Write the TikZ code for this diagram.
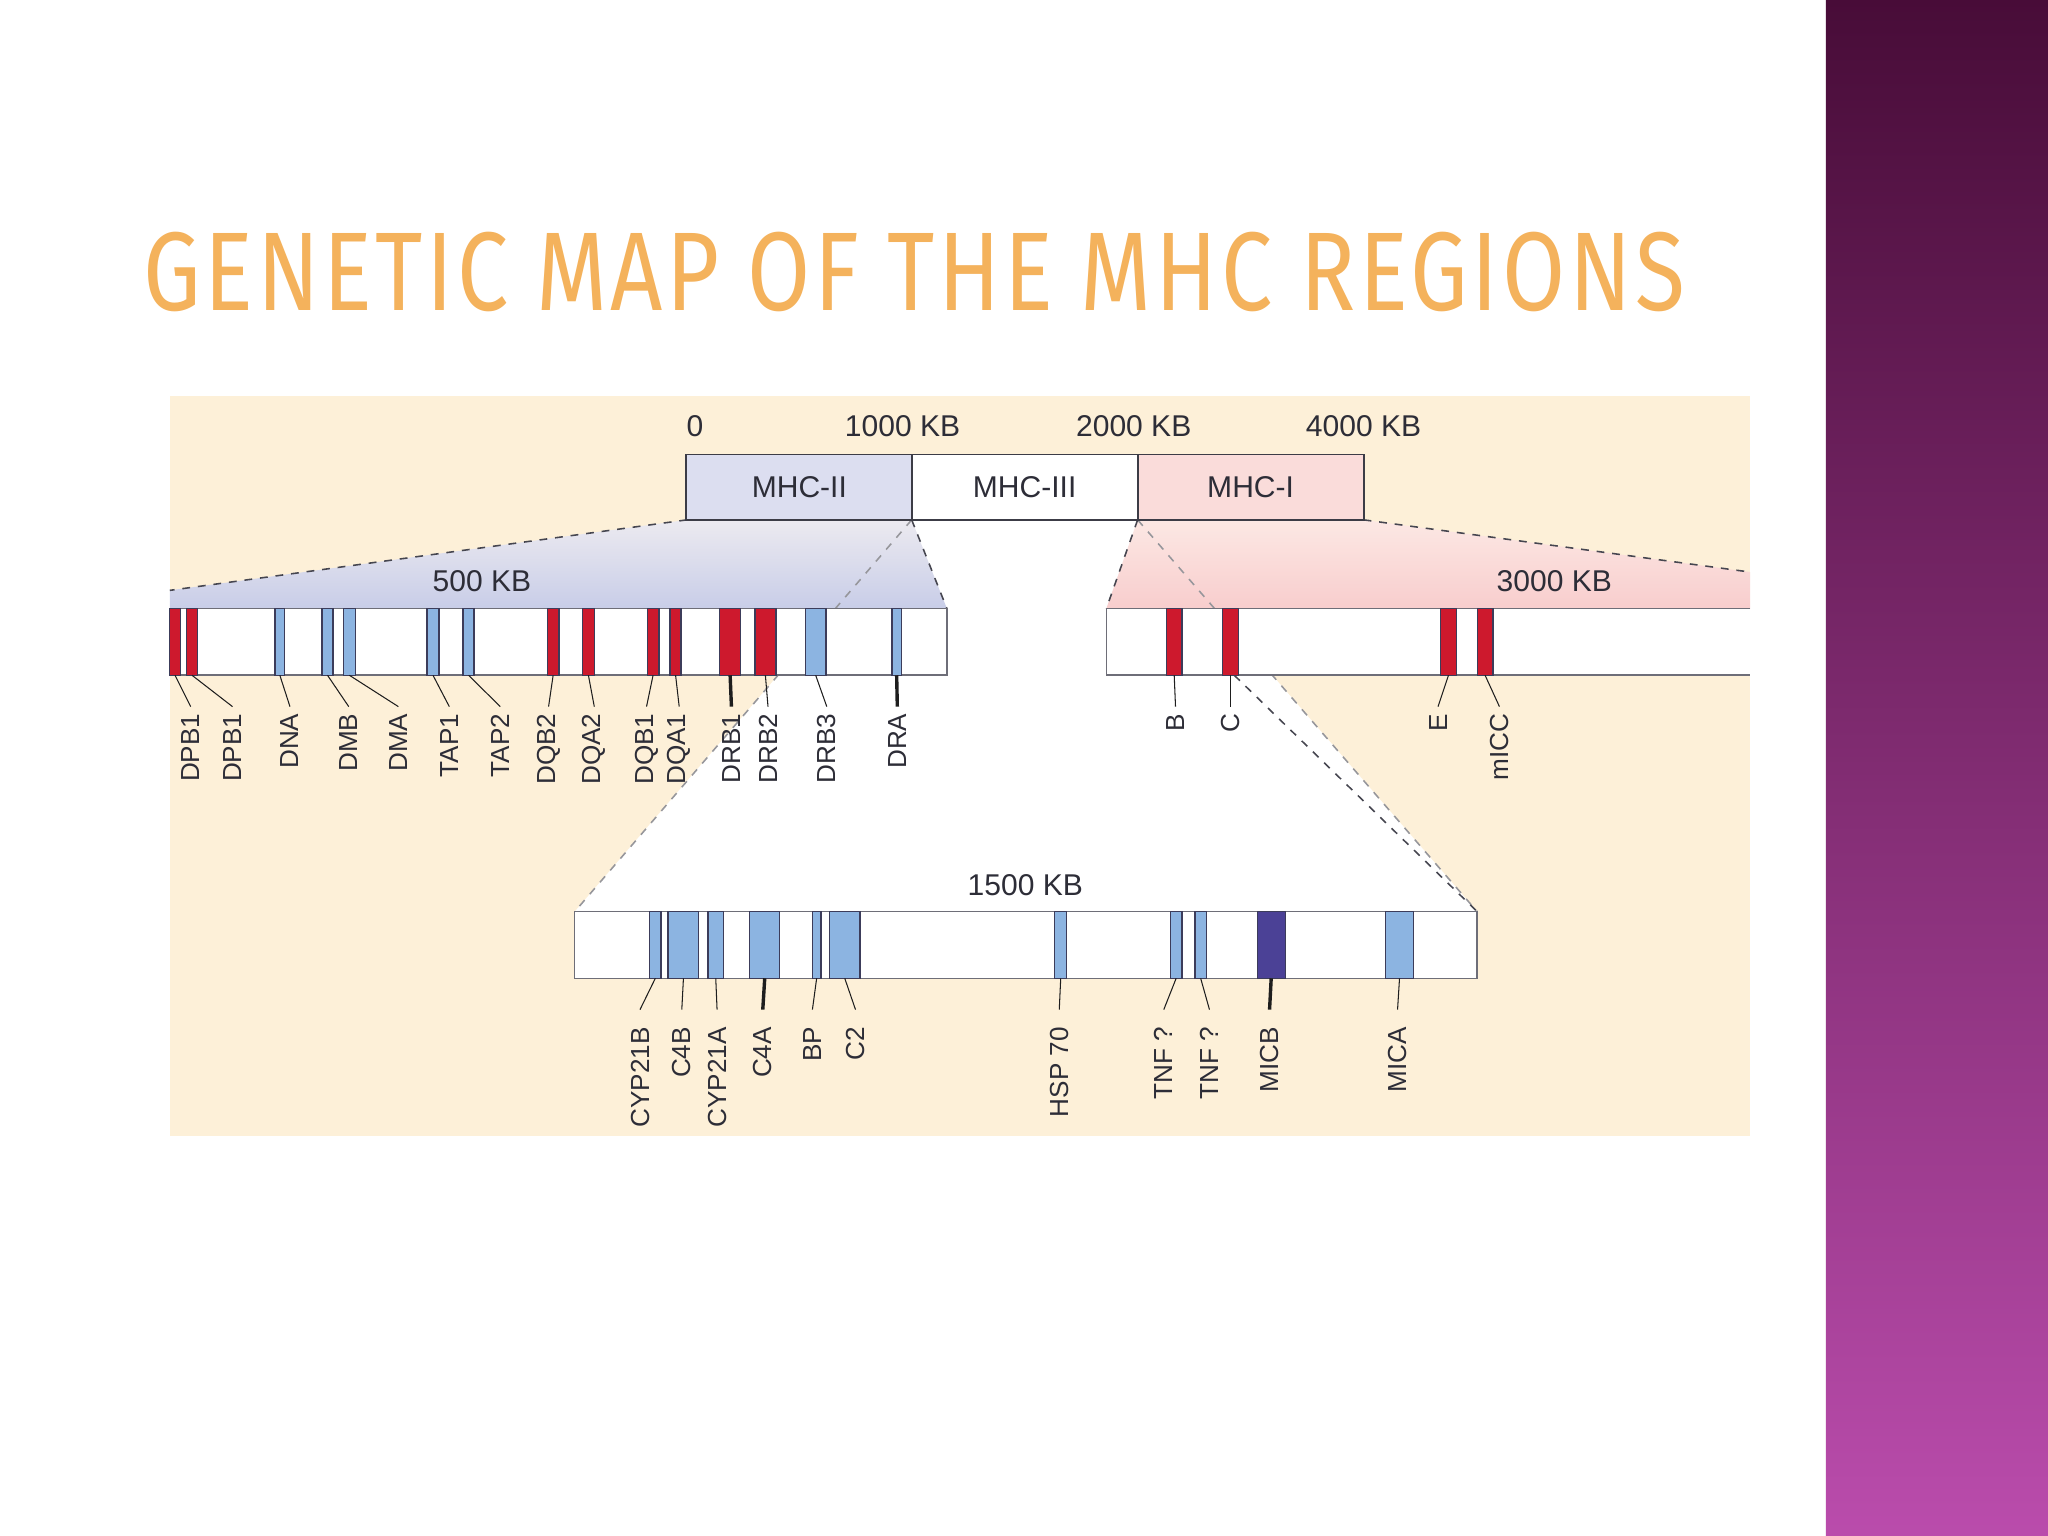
\documentclass[tikz,border=0pt]{standalone}
\usepackage{fontspec}
\setmainfont{Liberation Sans}
\definecolor{genered}{RGB}{205,25,45}
\definecolor{geneblue}{RGB}{140,180,225}
\definecolor{genepurple}{RGB}{75,65,150}
\definecolor{panel}{RGB}{253,240,216}
\definecolor{purptop}{RGB}{72,12,56}
\definecolor{purpbot}{RGB}{186,76,172}
\definecolor{lavtop}{RGB}{236,234,240}
\definecolor{lavbot}{RGB}{200,205,232}
\definecolor{pinktop}{RGB}{252,232,228}
\definecolor{pinkbot}{RGB}{248,205,205}
\definecolor{txt}{RGB}{45,45,55}
\definecolor{outl}{RGB}{60,60,90}
\definecolor{lead}{RGB}{30,30,30}
\definecolor{titleor}{RGB}{244,178,92}
\definecolor{boxlav}{RGB}{220,222,240}
\definecolor{boxpink}{RGB}{250,220,218}
\definecolor{bardraw}{RGB}{110,110,120}
\definecolor{boxdraw}{RGB}{60,60,70}
\definecolor{zdark}{RGB}{70,70,80}
\definecolor{zgrey}{RGB}{150,150,155}
\begin{document}
\begin{tikzpicture}[x=0.5pt,y=-0.5pt,
  lbl/.style={rotate=90, anchor=east, inner sep=0pt, text=txt, font=\fontsize{10}{10}\selectfont},
  barbox/.style={draw=bardraw, line width=0.6pt, fill=white},
  topbox/.style={draw=boxdraw, line width=0.7pt, minimum width=86.5pt, minimum height=25pt, inner sep=0pt, text=txt, font=\fontsize{11.5}{11.5}\selectfont},
  scalelbl/.style={text=txt, font=\fontsize{11.5}{11.5}\selectfont},
  zoomline/.style={dashed, line width=0.6pt, draw=zdark},
  greyline/.style={dashed, line width=0.6pt, draw=zgrey}]
\useasboundingbox (0,0) rectangle (1568,1176);
\fill[white] (0,0) rectangle (1398,1176);
\shade[top color=purptop, bottom color=purpbot] (1398,0) rectangle (1568,1176);
% title
\node[text=titleor] (title) at (700,208) {\resizebox{590pt}{30pt}{\fontspec{Fira Sans}[LetterSpace=4]GENETIC MAP OF THE MHC REGIONS}};
% panel
\fill[panel] (130,303) rectangle (1340,870);
% MHC-III zoom area
\fill[white] (698,398) -- (871,398) -- (1131,698) -- (440,698) -- cycle;
\shade[top color=lavtop, bottom color=lavbot] (130,452) -- (526,398) -- (698,398) -- (725,466) -- (130,466) -- cycle;
\shade[top color=pinktop, bottom color=pinkbot] (847,466) -- (871,398) -- (1044,398) -- (1340,438) -- (1340,466) -- cycle;
\coordinate (m2bl) at (526,398); \coordinate (m2br) at (698,398);
\coordinate (m1bl) at (871,398); \coordinate (m1br) at (1044,398);
\coordinate (zl) at (130,452); \coordinate (zr) at (725,466);
\coordinate (yl) at (847,466); \coordinate (yr) at (1340,438);
\coordinate (bl) at (440,698); \coordinate (br) at (1131,698);
\coordinate (cb) at (945,517);
\draw[greyline] (m2br) -- (bl);
\draw[greyline] (m1bl) -- (br);
\draw[zoomline] (m2bl) -- (zl);
\draw[zoomline] (m2br) -- (zr);
\draw[zoomline] (m1bl) -- (yl);
\draw[zoomline] (m1br) -- (yr);
\draw[zoomline] (cb) -- (br);
% bars
\draw[barbox] (130,466) rectangle (725,517);
\draw[barbox] (1340,466) -- (847,466) -- (847,517) -- (1340,517);
\draw[barbox] (440,698) rectangle (1131,749);
% left genes
\foreach \a/\b/\c/\t/\l/\w [count=\i] in {
 130/138/genered/DPB1/146/0.4pt, 143/151/genered/DPB1/178/0.4pt,
 210.5/218/geneblue/DNA/222/0.4pt, 246.5/255/geneblue/DMB/267/0.4pt,
 263/272/geneblue/DMA/305/0.4pt, 327/336/geneblue/TAP1/344/0.4pt,
 354.5/363/geneblue/TAP2/383/0.4pt, 419/428/genered/DQB2/420/0.4pt,
 446/455/genered/DQA2/455/0.4pt, 495.5/504.5/genered/DQB1/495/0.4pt,
 513/521.5/genered/DQA1/520/0.4pt, 551/567/genered/DRB1/560/1.3pt,
 578/594/genered/DRB2/588/0.4pt, 616.5/632.5/geneblue/DRB3/633/0.4pt,
 683/690/geneblue/DRA/687/1.3pt}{
 \filldraw[fill=\c, draw=outl, line width=0.5pt] (\a,466) rectangle (\b,517);
 \node[lbl] (L\i) at (\l,546) {\t};
 \coordinate (LT\i) at (\l,541);
 \draw[line width=\w, draw=lead] ({(\a+\b)/2},517) -- (LT\i);
}
% right genes
\foreach \a/\b/\t/\l [count=\i] in {893/905/B/900, 936/948/C/942, 1103/1115/E/1101, 1131/1143/mICC/1148}{
 \filldraw[fill=genered, draw=outl, line width=0.5pt] (\a,466) rectangle (\b,517);
 \node[lbl] (R\i) at (\l,546) {\t};
 \coordinate (RT\i) at (\l,541);
 \draw[line width=0.4pt, draw=lead] ({(\a+\b)/2},517) -- (RT\i);
}
% bottom genes
\foreach \a/\b/\c/\t/\l/\w [count=\i] in {
 497.5/506/geneblue/CYP21B/490/0.4pt, 511.5/535/geneblue/C4B/522/0.4pt,
 542/554/geneblue/CYP21A/549/0.4pt, 574/597/geneblue/C4A/584/1.3pt,
 622/628.5/geneblue/BP/622/0.4pt, 635/658.5/geneblue/C2/655/0.4pt,
 807.5/816.7/geneblue/HSP 70/811/0.4pt, 896/905/geneblue/TNF ?/891/0.4pt,
 915/923.5/geneblue/TNF ?/926/0.4pt, 962.5/984/genepurple/MICB/972/1.3pt,
 1061/1082/geneblue/MICA/1070/0.4pt}{
 \filldraw[fill=\c, draw=outl, line width=0.5pt] (\a,698) rectangle (\b,749);
 \node[lbl] (B\i) at (\l,786) {\t};
 \coordinate (BT\i) at (\l,773);
 \draw[line width=\w, draw=lead] ({(\a+\b)/2},749) -- (BT\i);
}
% top boxes
\node[topbox, fill=boxlav] (m2) at (612,373) {MHC-II};
\node[topbox, fill=white] (m3) at (784.5,373) {MHC-III};
\node[topbox, fill=boxpink] (m1) at (957.5,373) {MHC-I};
\node[scalelbl] (s0) at (532,326) {0};
\node[scalelbl] (s1) at (691,326) {1000 KB};
\node[scalelbl] (s2) at (868,326) {2000 KB};
\node[scalelbl] (s4) at (1044,326) {4000 KB};
\node[scalelbl] (k500) at (369,445) {500 KB};
\node[scalelbl] (k3000) at (1190,445) {3000 KB};
\node[scalelbl] (k1500) at (785,678) {1500 KB};
\end{tikzpicture}
\end{document}
